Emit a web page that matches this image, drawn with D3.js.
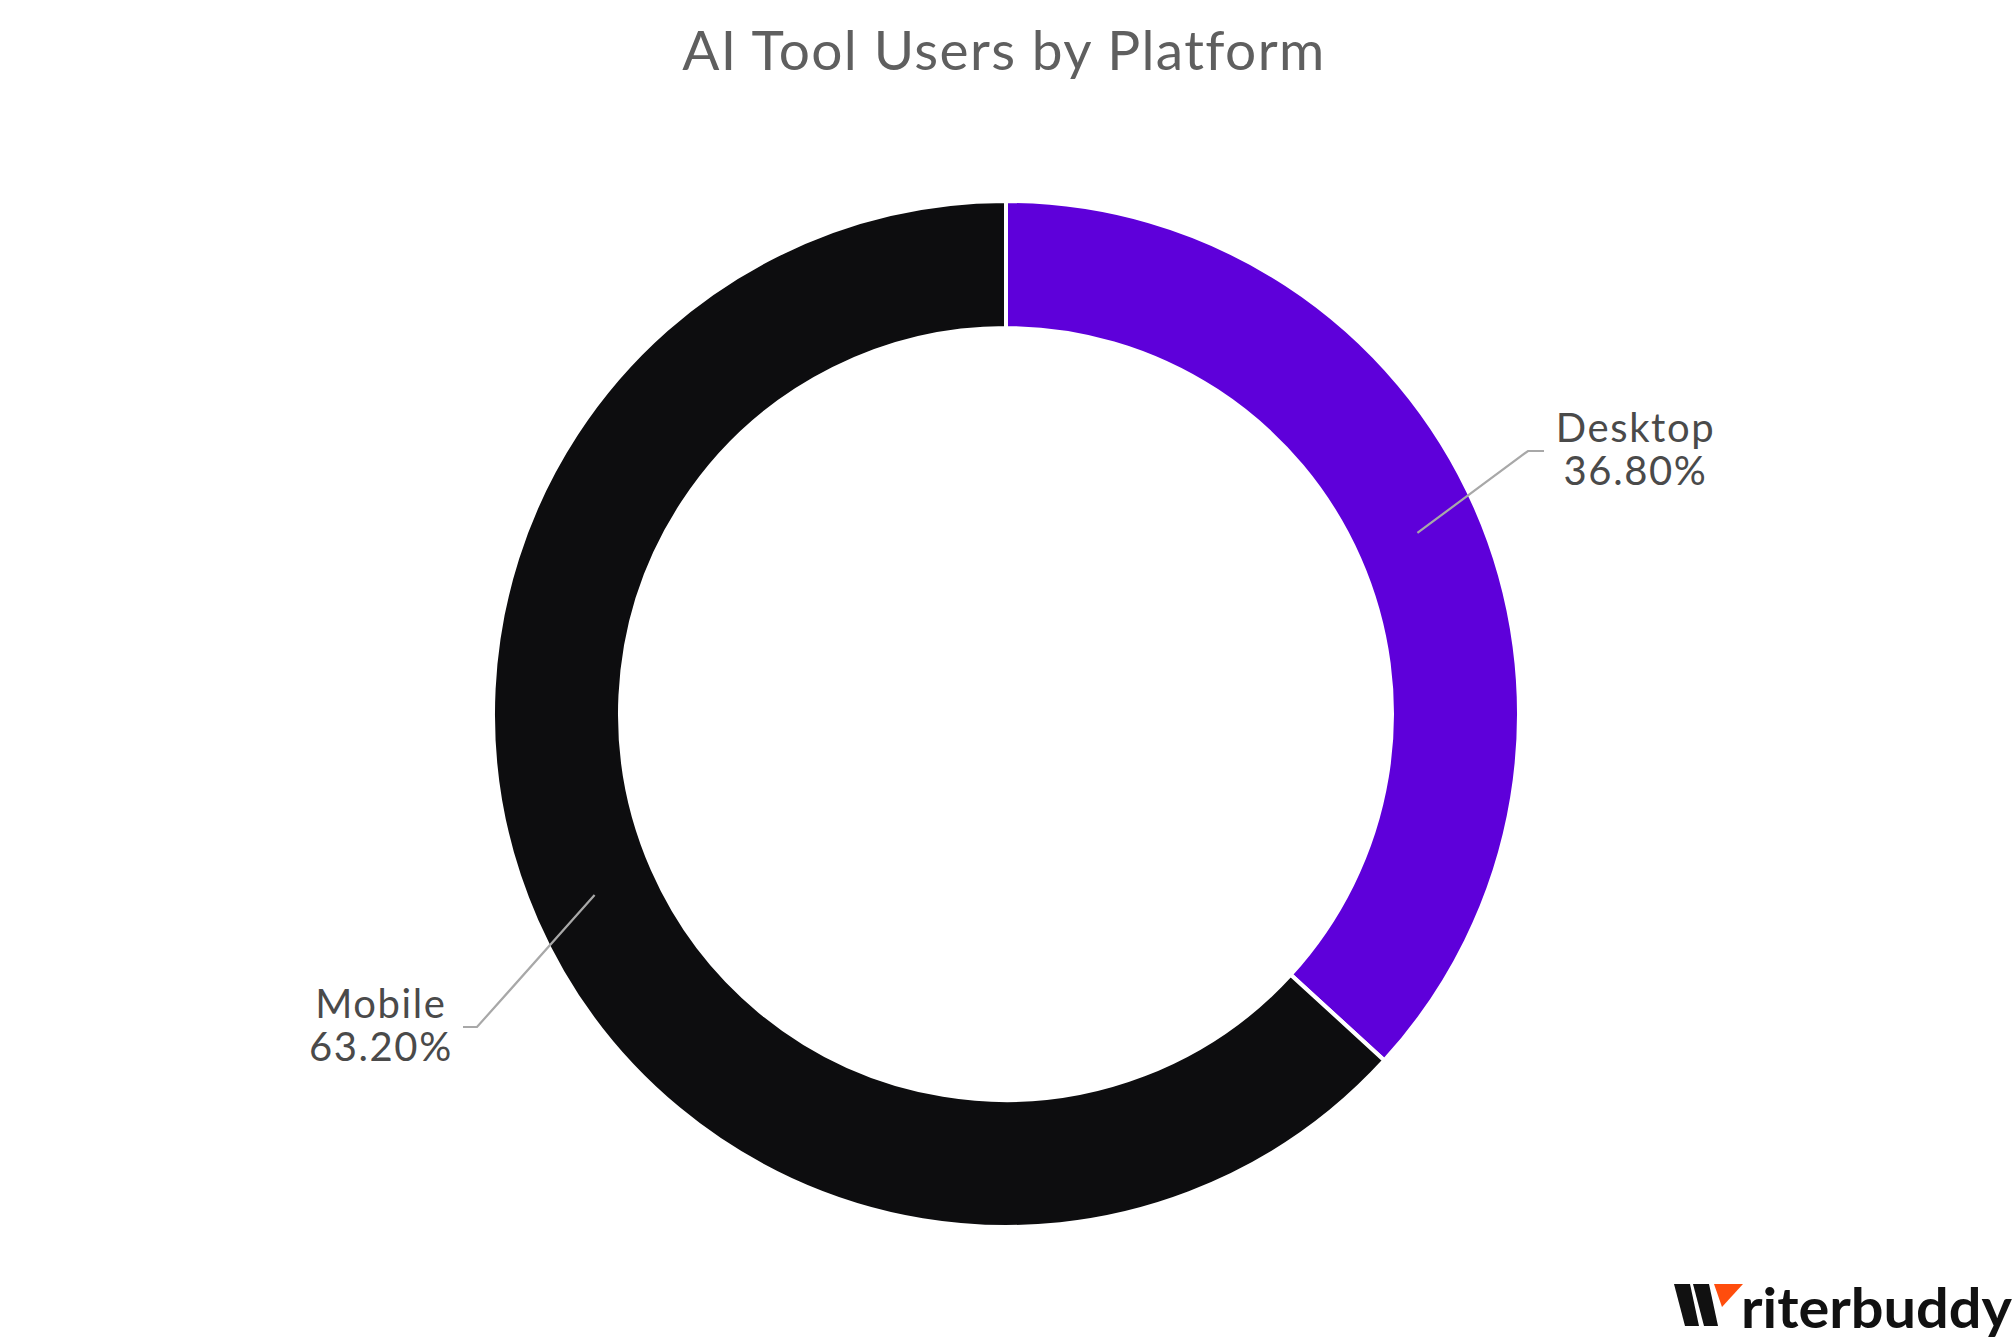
<!DOCTYPE html>
<html>
<head>
<meta charset="utf-8">
<script src="https://cdn.jsdelivr.net/npm/d3@7"></script>
<style>
  html, body { margin: 0; padding: 0; background: #ffffff; }
  svg { display: block; }
</style>
</head>
<body>
<svg id="chart" width="2012" height="1341"></svg>
<script>
// ---- data ----
const chartTitle = "AI Tool Users by Platform";
const categories = ["Desktop", "Mobile"];
const shares = [36.80, 63.20];
const colors = ["#5e00da", "#0d0d0f"];
const brandText = "riterbuddy";

// ---- layout ----
const W = 2012, H = 1341;
const cx = 1006, cy = 714;
const outerR = 513, innerR = 386;
// elbow offsets (relative to center) and horizontal run direction for leader lines
const leaderLayout = [
  { dx: 522, dy: -263, run: 16 },
  { dx: -529, dy: 313, run: -14 }
];

const svg = d3.select("#chart");

svg.append("text")
  .attr("x", 1004).attr("y", 70)
  .attr("text-anchor", "middle")
  .attr("font-family", "Lato, 'Open Sans', sans-serif")
  .attr("font-size", 55)
  .attr("letter-spacing", 1.4)
  .attr("fill", "#5f5f5f")
  .text(chartTitle);

const pieData = d3.pie().sort(null).value(d => d)(shares);
const arc = d3.arc().innerRadius(innerR).outerRadius(outerR);
const midArc = d3.arc().innerRadius((innerR + outerR) / 2).outerRadius((innerR + outerR) / 2);

const g = svg.append("g").attr("transform", `translate(${cx},${cy})`);

g.selectAll("path.slice")
  .data(pieData)
  .join("path")
  .attr("class", "slice")
  .attr("d", arc)
  .attr("fill", (d, i) => colors[i])
  .attr("stroke", "#ffffff")
  .attr("stroke-width", 4);

pieData.forEach((d, i) => {
  const [sx, sy] = midArc.centroid(d);
  const L = leaderLayout[i];
  const ex = L.dx, ey = L.dy, fx = L.dx + L.run;
  g.append("polyline")
    .attr("points", `${sx},${sy} ${ex},${ey} ${fx},${ey}`)
    .attr("fill", "none")
    .attr("stroke", "#a8a8a8")
    .attr("stroke-width", 2.2);

  const mk = (txt, dy) => g.append("text")
    .attr("font-family", "Lato, 'Open Sans', sans-serif")
    .attr("font-size", 40)
    .attr("letter-spacing", 1.6)
    .attr("fill", "#4a4a4a")
    .attr("text-anchor", "middle")
    .attr("y", ey + dy)
    .text(txt);
  const t1 = mk(categories[i], -9);
  const t2 = mk(shares[i].toFixed(2) + "%", 34);
  const w = Math.max(t1.node().getComputedTextLength(), t2.node().getComputedTextLength());
  const gap = 11;
  const centerX = L.run > 0 ? fx + gap + w / 2 : fx - gap - w / 2;
  t1.attr("x", centerX + 0.8);
  t2.attr("x", centerX + 0.8);
});

// ---- brand logo ----
const logo = svg.append("g");
logo.append("path")
  .attr("d", "M1674,1284 L1690,1284 L1699,1326 L1685,1326 Z")
  .attr("fill", "#111111");
logo.append("path")
  .attr("d", "M1693,1284 L1709,1284 L1718,1326 L1704,1326 Z")
  .attr("fill", "#111111");
logo.append("path")
  .attr("d", "M1714,1284 L1743,1284 L1722,1307 Z")
  .attr("fill", "#ff4d0d");
logo.append("text")
  .attr("x", 1741).attr("y", 1328)
  .attr("font-family", "Lato, sans-serif")
  .attr("font-weight", 700)
  .attr("font-size", 56)
  .attr("fill", "#111111")
  .attr("textLength", 271)
  .attr("lengthAdjust", "spacingAndGlyphs")
  .text(brandText);
</script>
</body>
</html>
